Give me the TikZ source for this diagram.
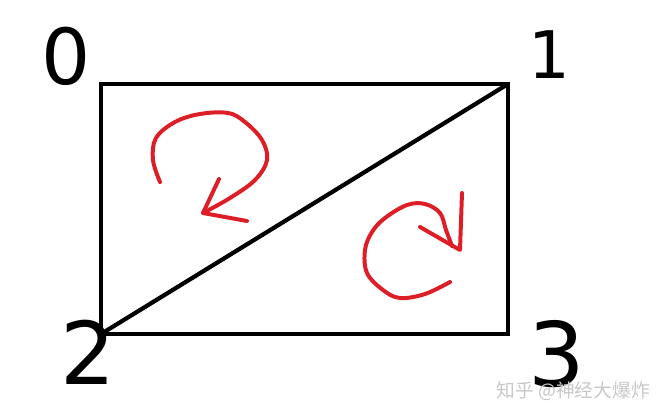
\documentclass[tikz,border=0pt]{standalone}
\usepackage{fontspec}
\setmainfont{DejaVu Sans}
\newfontfamily\cjk{Noto Sans CJK SC}
\definecolor{rojo}{RGB}{222,30,38}
\definecolor{marcagua}{RGB}{200,200,200}

\begin{document}
\begin{tikzpicture}[x=0.03cm, y=-0.03cm]

% Fix the page to the size of the drawing
\useasboundingbox (0,0) rectangle (667,420);

% Define styles for the frame, the corner numbers and the red turns
\tikzstyle{borde} = [line width=3.6pt, line join=miter]
\tikzstyle{digito} = [inner sep=0pt, font=\fontsize{66}{66}\selectfont]
\tikzstyle{giro} = [draw=rojo, line width=3.4pt, line cap=round, line join=round]
\tikzstyle{marca} = [inner sep=0pt, text=marcagua, font=\cjk\fontsize{16}{16}\selectfont, anchor=east]

% Corners of the rectangle
\coordinate (c0) at (101,84);
\coordinate (c1) at (508,84);
\coordinate (c2) at (101,334);
\coordinate (c3) at (508,334);

\draw[borde] (c0) rectangle (c3);
\draw[borde] (c2) -- (c1);

% Numbers at the corners
\node[digito] (n0) at (66,56) {0};
\node[digito, font=\fontsize{56}{56}\selectfont] (n1) at (549,55) {1};
\node[digito, font=\fontsize{74}{74}\selectfont] (n2) at (88,352) {2};
\node[digito, font=\fontsize{76}{76}\selectfont] (n3) at (557,354) {3};

% Upper triangle turn
\draw[giro] plot[smooth, tension=0.6] coordinates {(160,182) (153,160) (156,138) (175,122) (200,114) (228,113) (245,122) (262,140) (267,160) (255,180) (230,198) (203,213)};
\coordinate (p1) at (203,213);
\draw[giro] (219,179) -- (p1) -- (247,221);

% Lower triangle turn
\draw[giro] plot[smooth, tension=0.6] coordinates {(450,282) (425,294) (400,298) (383,290) (367,273) (365,250) (372,232) (385,218) (407,205) (425,204) (440,213) (446,230) (452,246)};
\coordinate (p2) at (460,250);
\draw[giro] (420,227) -- (p2) -- (462,193);

% Watermark
\node[marca] (wm) at (650,391) {知乎 @神经大爆炸};

\end{tikzpicture}
\end{document}
